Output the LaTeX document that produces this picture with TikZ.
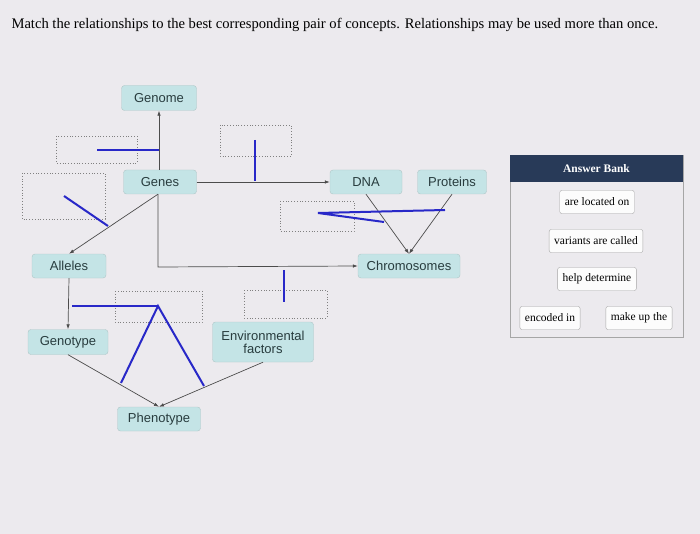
\documentclass[tikz,border=0pt]{standalone}
\usepackage{fontspec}
\setmainfont{Liberation Serif}
\setsansfont{Liberation Sans}
\usetikzlibrary{arrows.meta}
\definecolor{bgc}{RGB}{236,234,238}
\definecolor{conc}{RGB}{196,228,230}
\definecolor{conctext}{RGB}{40,60,62}
\definecolor{navy}{RGB}{40,58,88}
\definecolor{pen}{RGB}{40,40,200}
\tikzset{
  concept/.style={draw=conc!70!gray, fill=conc, rounded corners=3pt, font=\sffamily\fontsize{13}{15}\selectfont, text=conctext, inner xsep=5pt, inner ysep=3pt, align=center},
  slot/.style={draw=gray, dotted, thick},
  link/.style={draw=gray!60!black, line width=0.7pt, -{Latex[length=5pt,width=3.5pt]}},
  ink/.style={draw=pen, line width=2pt},
  chip/.style={draw=gray!70, fill=white!85!bgc, rounded corners=2pt, font=\fontsize{11.5}{13}\selectfont, inner xsep=5pt, minimum height=23pt}
}
\begin{document}
\begin{tikzpicture}[x=1pt,y=-1pt]
\fill[bgc] (0,0) rectangle (700,534);
\useasboundingbox (0,0) rectangle (700,534);
\node[anchor=west, font=\fontsize{14.6}{17}\selectfont] (title) at (8,25) {Match the relationships to the best corresponding pair of concepts. Relationships may be used more than once.};

% drop slots
\draw[slot] (56,136) rectangle (137,163);
\draw[slot] (220,125) rectangle (291,156);
\draw[slot] (22,173) rectangle (105,219);
\draw[slot] (280,201) rectangle (354,231);
\draw[slot] (115,291) rectangle (202,322);
\draw[slot] (244,290) rectangle (327,318);

% concepts
\node[concept, minimum width=75pt, minimum height=25pt] (genome) at (159,98) {Genome};
\node[concept, minimum width=73pt, minimum height=24pt] (genes) at (160,182) {Genes};
\node[concept, minimum width=72pt, minimum height=24pt] (dna) at (366,182) {DNA};
\node[concept, minimum width=69pt, minimum height=24pt] (proteins) at (452,182) {Proteins};
\node[concept, minimum width=102pt, minimum height=24pt] (chrom) at (409,266) {Chromosomes};
\node[concept, minimum width=74pt, minimum height=24pt] (alleles) at (69,266) {Alleles};
\node[concept, minimum width=80pt, minimum height=25pt] (genotype) at (68,342) {Genotype};
\node[concept, minimum width=101pt, minimum height=40pt, inner ysep=2pt] (env) at (263,342) {Environmental\\[-2pt]factors};
\node[concept, minimum width=83pt, minimum height=24pt] (pheno) at (159,419) {Phenotype};

% connectors
\draw[link] (genes.north -| genome.south) -- (genome.south);
\draw[link] (genes.east) -- (dna.west);
\draw[link] ([xshift=-2pt]genes.south) -- (alleles.north);
\coordinate (bend) at (158,267);
\draw[link] ([xshift=-2pt]genes.south) -- (bend) -- (chrom.west);
\draw[link] (alleles.south) -- (genotype.north);
\draw[link] (genotype.south) -- (pheno.north);
\draw[link] (env.south) -- (pheno.north);
\draw[link] (dna.south) -- (chrom.north);
\draw[link] (proteins.south) -- (chrom.north);

% hand-drawn strokes
\draw[ink] (97,150) -- (159,150);
\draw[ink] (255,140) -- (255,181);
\draw[ink] (64,196) -- (108,226);
\draw[ink] (445,210) -- (318,213) -- (384,222);
\draw[ink] (284,270) -- (284,302);
\draw[ink] (72,306) -- (158,306);
\draw[ink] (121,383) -- (158,306) -- (204,386);

% answer bank
\draw[gray!70, fill=bgc] (510,155) rectangle (683,337);
\fill[navy] (510,155) rectangle (683,182);
\node[text=white, font=\fontsize{11.5}{13}\selectfont\bfseries] (bank) at (596.5,168.5) {Answer Bank};
\node[chip] (c1) at (597,202) {are located on};
\node[chip] (c2) at (596,241) {variants are called};
\node[chip] (c3) at (597,279) {help determine};
\node[chip] (c4) at (550,318) {encoded in};
\node[chip] (c5) at (639,318) {make up the};
\end{tikzpicture}
\end{document}
